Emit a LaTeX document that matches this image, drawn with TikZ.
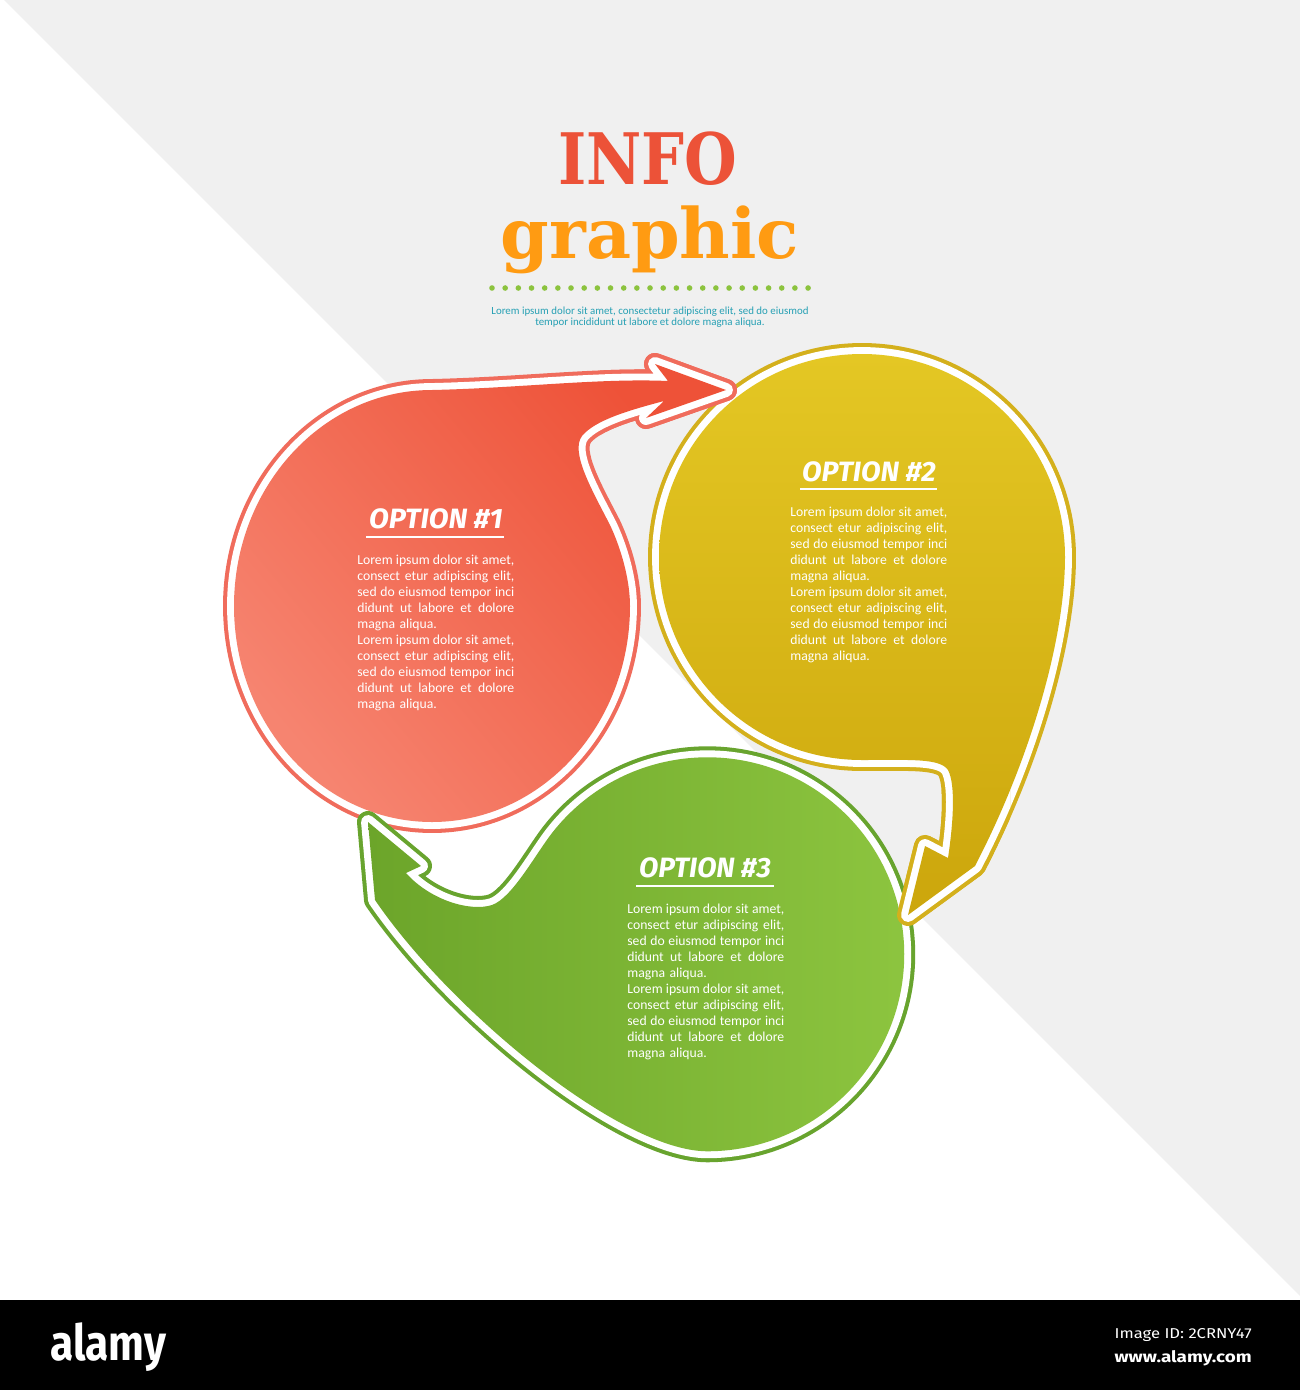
\documentclass[tikz,border=0pt]{standalone}
\usepackage{fontspec}
\usepackage{graphicx}
\setmainfont{Carlito}
\newfontfamily\headfont{Fira Sans}
\newfontfamily\titlefont{DejaVu Serif}
\definecolor{BackGray}{RGB}{240,240,240}
\definecolor{InfoRed}{RGB}{236,82,56}
\definecolor{GraphicOrange}{RGB}{255,155,18}
\definecolor{DotGreen}{RGB}{140,195,62}
\definecolor{SubTeal}{RGB}{38,160,180}
\definecolor{RedMain}{RGB}{238,82,56}
\definecolor{RedLight}{RGB}{246,132,112}
\definecolor{RedLine}{RGB}{240,108,92}
\definecolor{YellowTop}{RGB}{228,199,36}
\definecolor{YellowBottom}{RGB}{204,166,12}
\definecolor{YellowLine}{RGB}{212,176,28}
\definecolor{GreenDark}{RGB}{108,165,42}
\definecolor{GreenLight}{RGB}{142,198,64}
\definecolor{GreenLine}{RGB}{104,164,46}
\tikzstyle{ringout} = [line width=12.5pt, line join=round]
\tikzstyle{ringin} = [line width=7.9pt, draw=white, line join=round]
\tikzstyle{optiontitle} = [anchor=base, inner sep=0pt, text=white, font=\headfont\bfseries\itshape]
\tikzstyle{bodytext} = [anchor=north west, inner sep=0pt, text=white, text width=3.14cm, align=left, font=\fontsize{7.8}{9.07}\selectfont]
\tikzstyle{subtext} = [inner sep=0pt, text=SubTeal, font=\fontsize{6.2}{7}\selectfont]
\tikzstyle{bandtext} = [inner sep=0pt, text=white]

\newcommand\jline[1]{\makebox[3.14cm][s]{\spaceskip=0.18em plus 1fil\relax #1}\\}
\newcommand\lorempara{\jline{Lorem ipsum dolor sit amet,}\jline{consect etur adipiscing elit,}\jline{sed do eiusmod tempor inci}\jline{didunt ut labore et dolore}magna aliqua.}

% contours des bulles
\newcommand\redpath{(726,390) -- (646,418) -- (664,401) .. controls (630,410) and (595,420) .. (582,436) .. controls (570,452) and (592,490) .. (610,525) .. controls (624,555) and (630,585) .. (630,606) arc[start angle=0, end angle=270, x radius=198, y radius=216] .. controls (520,388) and (600,378) .. (668,381) -- (655,364) -- cycle}
\newcommand\yellowpath{(908,915) -- (925,846) -- (948,858) .. controls (953,825) and (956,785) .. (948,770) .. controls (940,758) and (910,760) .. (862,760) arc[start angle=90, end angle=360, radius=203] .. controls (1065,640) and (1030,760) .. (975,866) -- cycle}
\newcommand\greenpath{(368,822) -- (421,866) -- (406,873) .. controls (430,900) and (470,912) .. (492,905) .. controls (512,898) and (535,855) .. (552,833) arc[start angle=218, end angle=450, radius=197] .. controls (620,1151) and (450,1010) .. (375,900) -- cycle}

\newcommand\bubble[3]{%
  \draw[ringout, draw=#2] #1;
  \draw[ringin] #1;
  \shade[#3] #1;}

\begin{document}
\begin{tikzpicture}[x=0.02cm, y=-0.02cm]

% fond
\fill[BackGray] (0,0) rectangle (1300,1300);
\fill[white] (0,0) -- (4,0) -- (1300,1296) -- (1300,1300) -- (0,1300) -- cycle;
\fill[black] (0,1300) rectangle (1300,1390);
\useasboundingbox (0,0) rectangle (1300,1390);

% titre
\node (info) [anchor=base, inner sep=0pt, text=InfoRed, font=\titlefont\bfseries] at (648,184) {\resizebox{102pt}{30pt}{INFO}};
\node (graphic) [anchor=base, inner sep=0pt, text=GraphicOrange, font=\titlefont\bfseries] at (650,258) {\resizebox{170pt}{30pt}{graphic}};
\foreach \i in {0,...,24}
  \fill[DotGreen] ({492+13.17*\i},288) circle[radius=2.8];
\node (subone) [subtext] at (650,312) {Lorem ipsum dolor sit amet, consectetur adipiscing elit, sed do eiusmod};
\node (subtwo) [subtext] at (650,323) {tempor incididunt ut labore et dolore magna aliqua.};

% bulles
\bubble{\yellowpath}{YellowLine}{top color=YellowTop, bottom color=YellowBottom}
\bubble{\redpath}{RedLine}{top color=RedMain, middle color=RedMain, bottom color=RedLight, shading angle=-50}
\bubble{\greenpath}{GreenLine}{left color=GreenDark, right color=GreenLight}
\begin{scope}
  \clip (600,330) rectangle (780,450);
  \bubble{\redpath}{RedLine}{top color=RedMain, middle color=RedMain, bottom color=RedLight, shading angle=-50}
\end{scope}
\begin{scope}
  \clip (860,790) rectangle (1010,950);
  \bubble{\yellowpath}{YellowLine}{top color=YellowTop, bottom color=YellowBottom}
\end{scope}

% textes des options
\node (optone) [optiontitle] at (436,528) {\resizebox{76pt}{11.3pt}{OPTION \#1}};
\draw[white, line width=1.1pt] (366,537) -- (504,537);
\node (textone) [bodytext] at (357,555) {\noindent\lorempara\\\lorempara};

\node (opttwo) [optiontitle] at (869,481) {\resizebox{76pt}{11.3pt}{OPTION \#2}};
\draw[white, line width=1.1pt] (800,489) -- (937,489);
\node (texttwo) [bodytext] at (790,507) {\noindent\lorempara\\\lorempara};

\node (optthree) [optiontitle] at (705,877) {\resizebox{75pt}{11.3pt}{OPTION \#3}};
\draw[white, line width=1.1pt] (636,886) -- (774,886);
\node (textthree) [bodytext] at (627,904) {\noindent\lorempara\\\lorempara};

% bandeau
\node (logo) [bandtext, anchor=base west, font=\headfont\bfseries] at (50,1360) {\resizebox{66pt}{21.5pt}{alamy}};
\node (imageid) [bandtext, anchor=base east, font=\headfont] at (1252,1338) {\resizebox{78pt}{5.7pt}{Image ID: 2CRNY47}};
\node (website) [bandtext, anchor=base east, font=\headfont\bfseries] at (1252,1362) {\resizebox{78pt}{6.8pt}{www.alamy.com}};

\end{tikzpicture}
\end{document}
